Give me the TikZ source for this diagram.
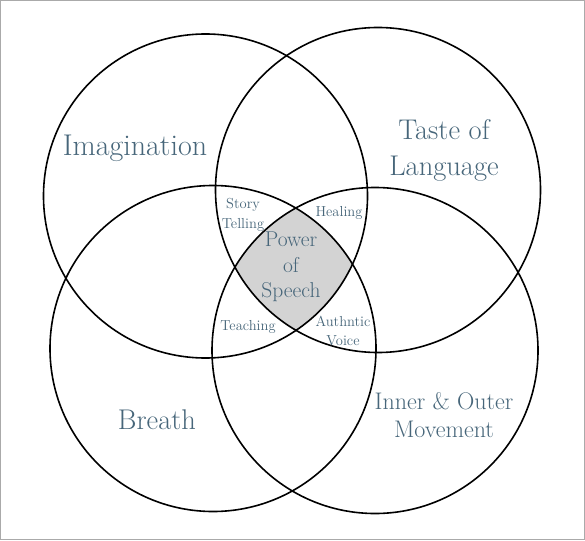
\documentclass[tikz,border=0pt]{standalone}
\usepackage{fontspec}
\usepackage{tikz}
\definecolor{txt}{HTML}{47667A}
\definecolor{core}{HTML}{D3D3D3}
\definecolor{frame}{HTML}{AAAAAA}
\newcommand{\heavier}{\addfontfeature{FakeBold=0.8}}
\begin{document}
\begin{tikzpicture}[x=1pt,y=-1pt,
  ring/.style={draw=black,line width=1.6pt},
  lbl/.style={text=txt,align=center,inner sep=0pt},
  big/.style={lbl,font=\fontsize{28.5}{36}\selectfont\heavier},
  mid/.style={lbl,font=\fontsize{24}{28}\selectfont\heavier},
  core label/.style={lbl,font=\fontsize{21.5}{25.5}\selectfont\heavier},
  small/.style={lbl,font=\fontsize{14.5}{19.5}\selectfont\heavier}]
\useasboundingbox (0,0) rectangle (585,540);
\fill[white] (0,0) rectangle (585,540);
\draw[frame,line width=1pt] (0.5,0.5) rectangle (584.5,539.5);
% shaded common region
\begin{scope}
  \clip (205.5,196) circle[radius=162];
  \clip (378,190) circle[radius=162.5];
  \clip (213,348.5) circle[radius=163];
  \fill[core] (375,350.5) circle[radius=163];
\end{scope}
\draw[ring] (205.5,196) circle[radius=162];
\draw[ring] (378,190) circle[radius=162.5];
\draw[ring] (213,348.5) circle[radius=163];
\draw[ring] (375,350.5) circle[radius=163];
% labels
\node[big,font=\fontsize{30}{36}\selectfont\heavier] (imag) at (135,148) {Imagination};
\node[big] (taste) at (444,150) {Taste of\\Language};
\node[big] (breath) at (157,420) {Breath};
\node[mid] (inner) at (444,415) {Inner \& Outer\\Movement};
\node[core label] (power) at (291,267) {Power\\of\\Speech};
\node[small] (story) at (243,215) {Story\\Telling};
\node[small] (heal) at (339,213) {Healing};
\node[small] (teach) at (248,327) {Teaching};
\node[small] (voice) at (343,331) {Authntic\\Voice};
\end{tikzpicture}
\end{document}
